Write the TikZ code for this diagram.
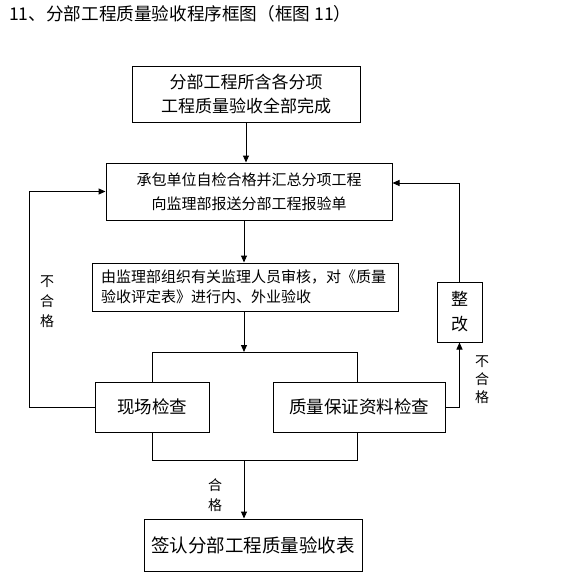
\documentclass[tikz,border=0pt]{standalone}
\usepackage{fontspec}
\setmainfont{Liberation Serif}
\newfontfamily\cjk{Noto Sans CJK SC}
\usetikzlibrary{arrows.meta}
\begin{document}
\begin{tikzpicture}[x=1pt,y=-1pt,
  box/.style={draw, line width=1pt, inner sep=0pt, align=center},
  conn/.style={line width=1pt},
  arr/.style={conn, -{Triangle[length=7pt,width=6pt]}},
  lbl/.style={inner sep=0pt, align=center, font=\cjk\fontsize{14}{20}\selectfont}]
\useasboundingbox[fill=white] (0,0) rectangle (566,576);

\node[anchor=west, inner sep=0pt, font=\cjk\fontsize{17.6}{17.6}\selectfont] (title) at (9,14) {11、分部工程质量验收程序框图（框图 11）};

\node[box, minimum width=228pt, minimum height=56pt, font=\cjk\fontsize{17}{24}\selectfont] (b1) at (246,94) {分部工程所含各分项\\工程质量验收全部完成};
\node[box, minimum width=286pt, minimum height=57pt, font=\cjk\fontsize{15}{24}\selectfont] (b2) at (249,191.5) {承包单位自检合格并汇总分项工程\\向监理部报送分部工程报验单};
\node[box, minimum width=306pt, minimum height=48pt, text width=288pt, align=left, font=\cjk\fontsize{15}{20}\selectfont] (b3) at (245,287) {由监理部组织有关监理人员审核，对《质量\\验收评定表》进行内、外业验收};
\node[box, minimum width=114pt, minimum height=50pt, font=\cjk\fontsize{17.5}{20}\selectfont] (c1) at (152,407) {现场检查};
\node[box, minimum width=172pt, minimum height=50pt, font=\cjk\fontsize{17.5}{20}\selectfont] (c2) at (359,407) {质量保证资料检查};
\node[box, minimum width=218pt, minimum height=52pt, font=\cjk\fontsize{18.5}{20}\selectfont] (fin) at (253,545) {签认分部工程质量验收表};
\node[box, minimum width=45pt, minimum height=60pt, font=\cjk\fontsize{17}{25}\selectfont] (zg) at (459.5,312) {整\\改};

\node[lbl] (nl) at (47,302) {不\\合\\格};
\node[lbl, font=\cjk\fontsize{14}{18}\selectfont] (nr) at (482,380) {不\\合\\格};
\node[lbl] (ok) at (215,495) {合\\格};

\coordinate (mx) at (244,0);
\coordinate (tl) at (152,352);
\coordinate (tr) at (357,352);
\coordinate (bl) at (152,460);
\coordinate (br) at (357,460);
\coordinate (lx) at (29,0);
\coordinate (ry) at (0,183);

\draw[arr] (b1.south) -- (b1.south |- b2.north);
\draw[arr] (b2.south -| mx) -- (b3.north -| mx);
\draw[arr] (b3.south -| mx) -- (tl -| mx);
\draw[conn] (c1.north -| tl) -- (tl) -- (tr) -- (c2.north -| tr);
\draw[conn] (c1.south -| bl) -- (bl) -- (br) -- (c2.south -| br);
\draw[arr] (bl -| mx) -- (fin.north -| mx);
\draw[arr] (c1.west) -- (c1.west -| lx) -- (lx |- b2.west) -- (b2.west);
\draw[arr] (c2.east) -- (c2.east -| zg.south) -- (zg.south);
\draw[arr] (zg.north) -- (zg.north |- ry) -- (b2.east |- ry);
\end{tikzpicture}
\end{document}
